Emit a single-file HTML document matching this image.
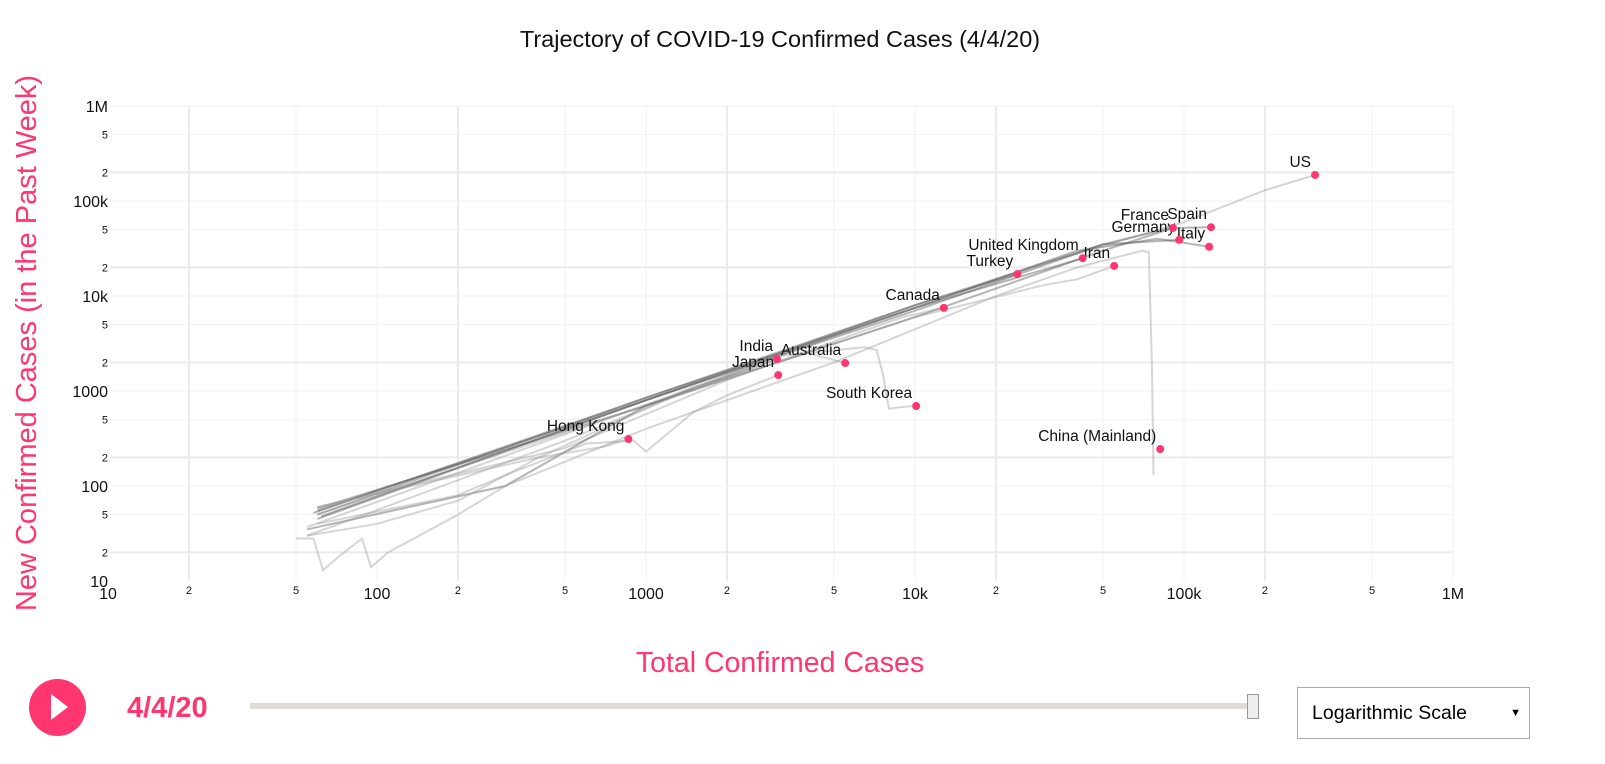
<!DOCTYPE html>
<html><head><meta charset="utf-8"><style>
body{margin:0;width:1605px;height:764px;background:#fff;font-family:"Liberation Sans",sans-serif;overflow:hidden;position:relative}
.abs{position:absolute}
</style></head><body>
<svg class="abs" style="left:0;top:0" width="1605" height="764">
<text x="780" y="47" text-anchor="middle" font-size="23.5" fill="#111">Trajectory of COVID-19 Confirmed Cases (4/4/20)</text>
<text transform="translate(36,343) rotate(-90)" text-anchor="middle" font-size="29" fill="#ff3670">New Confirmed Cases (in the Past Week)</text>
<text x="780" y="672" text-anchor="middle" font-size="28.5" fill="#ff3670">Total Confirmed Cases</text>
<g id="grid"></g><g id="ticks"></g><g id="lines"></g><g id="dots"></g>
</svg>
<div class="abs" style="left:29px;top:679px;width:57px;height:57px;border-radius:50%;background:#ff3670">
<div class="abs" style="left:22px;top:15px;width:0;height:0;border-left:17px solid #fff;border-top:13px solid transparent;border-bottom:13px solid transparent"></div></div>
<div class="abs" style="left:127px;top:692px;font-size:29px;font-weight:bold;color:#ff3670">4/4/20</div>
<div class="abs" style="left:250px;top:703px;width:1005px;height:6px;background:#e0ddd8"></div>
<div class="abs" style="left:1247px;top:694px;width:10px;height:23px;background:#eee;border:1px solid #999"></div>
<div class="abs" style="left:1297px;top:687px;width:233px;height:52px;border:1px solid #aaa;box-sizing:border-box;font-size:19.5px;line-height:50px;padding-left:14px;color:#000">Logarithmic Scale<span style="position:absolute;right:8px;font-size:11px">▼</span></div>
<script>
const xTicks=[10,20,50,100,200,500,1000,2000,5000,10000,20000,50000,100000,200000,500000,1000000];
const yTicks=[10,20,50,100,200,500,1000,2000,5000,10000,20000,50000,100000,200000,500000,1000000];
const majorLabels={10:"10",100:"100",1000:"1000",10000:"10k",100000:"100k",1000000:"1M"};
const countries=["US","Spain","Italy","Germany","France","Iran","United Kingdom","Turkey","Canada","Australia","India","Japan","South Korea","China (Mainland)","Hong Kong"];
const totals=[307000,126000,124000,96000,91000,55000,42000,24000,12800,5500,3070,3100,10100,81600,860];
const newCases=[188000,53000,33000,39000,52000,20700,25000,17000,7500,1970,2170,1470,695,245,312];
const trajUS=[[55,37],[500,350],[5000,3800],[30000,22000],[100000,60000],[200000,130000],[307000,188000]];
const trajSpain=[[60,45],[1000,800],[10000,7000],[50000,35000],[90000,52000],[126000,53000]];
const trajItaly=[[60,50],[1000,850],[10000,7500],[40000,30000],[80000,40000],[124000,33000]];
const trajGermany=[[60,55],[1000,800],[10000,8000],[50000,35000],[96000,39000]];
const trajFrance=[[60,58],[1000,700],[10000,6000],[50000,30000],[91000,52000]];
const trajIran=[[60,50],[1000,700],[10000,6000],[30000,13000],[40000,15000],[55000,20700]];
const trajUK=[[62,48],[1000,800],[10000,7500],[42000,25000]];
const trajTurkey=[[58,52],[1000,850],[10000,8000],[24000,17000]];
const trajCanada=[[60,60],[500,250],[2000,1300],[6000,4000],[9000,6000],[12800,7500]];
const trajAustralia=[[60,60],[400,200],[1500,1100],[4000,2500],[5500,1970]];
const trajIndia=[[55,35],[300,100],[1000,700],[3070,2170]];
const trajJapan=[[60,40],[200,80],[300,130],[600,280],[900,300],[1000,230],[1500,600],[2000,900],[3100,1470]];
const trajKorea=[[55,30],[500,300],[3000,2300],[6500,2900],[7200,2700],[7600,1500],[8000,650],[9000,680],[10100,695]];
const trajChina=[[50,28],[58,28],[63,13],[72,18],[88,28],[95,14],[110,20],[200,50],[300,100],[1000,400],[5000,2000],[20000,10000],[40000,20000],[70000,30000],[74000,29000],[76000,2000],[77000,130]];
const trajHK=[[55,30],[100,40],[200,70],[400,200],[700,260],[860,312]];
const trajs=[trajUS,trajSpain,trajItaly,trajGermany,trajFrance,trajIran,trajUK,trajTurkey,trajCanada,trajAustralia,trajIndia,trajJapan,trajKorea,trajChina,trajHK];
const dark=[0,1,1,1,1,0,1,1,0,0,1,0,0,0,0];
const X0=108,X1=1453,Y0=581,Y1=106;
const sx=v=>X0+(Math.log10(v)-1)/5*(X1-X0);
const sy=v=>Y0-(Math.log10(v)-1)/5*(Y0-Y1);
const NS="http://www.w3.org/2000/svg";
function mk(t,a,p){const e=document.createElementNS(NS,t);for(const k in a)e.setAttribute(k,a[k]);p.appendChild(e);return e;}
const grid=document.getElementById('grid'),ticks=document.getElementById('ticks');
xTicks.forEach(v=>{
 const x=sx(v);const maj=majorLabels[v];
 if(v>10){const l=mk('line',{x1:x,x2:x,y1:Y1,y2:Y0,stroke:String(v).startsWith('2')?'#ebebeb':'#f2f2f2','stroke-width':String(v).startsWith('2')?2:1},grid);
 
 }
 const t=mk('text',{x:x,y:maj?599:594,'text-anchor':'middle','font-size':maj?16:11,fill:'#111'},ticks);
 t.textContent=maj||String(v)[0];
 
 
});
yTicks.forEach(v=>{
 const y=sy(v);const maj=majorLabels[v];
 if(v>10){const l=mk('line',{x1:X0+2,x2:X1,y1:y,y2:y,stroke:String(v).startsWith('2')?'#ebebeb':'#f2f2f2','stroke-width':String(v).startsWith('2')?2:1},grid);
 
 }
 const t=mk('text',{x:X0,y:y+(maj?6:4),'text-anchor':'end','font-size':maj?16:11,fill:'#111'},ticks);
 t.textContent=maj||String(v)[0];
 
 
});
const lines=document.getElementById('lines'),dots=document.getElementById('dots');
trajs.forEach((tr,i)=>{
 const d=tr.map((p,j)=>(j?'L':'M')+sx(p[0]).toFixed(1)+','+sy(p[1]).toFixed(1)).join('');
 const p=mk('path',{d:d,fill:'none',stroke:dark[i]?'rgba(90,90,90,0.45)':'rgba(150,150,150,0.4)','stroke-width':2},lines);
 
 
});
countries.forEach((c,i)=>{
 const x=sx(totals[i]),y=sy(newCases[i]);
 const ci=mk('circle',{cx:x,cy:y,r:4,fill:'#ff3670'},dots);
 
 
 const t=mk('text',{x:x-4,y:y-8,'text-anchor':'end','font-size':15.5,fill:'#111'},dots);
 t.textContent=c;
 
 
});
</script>
</body></html>
